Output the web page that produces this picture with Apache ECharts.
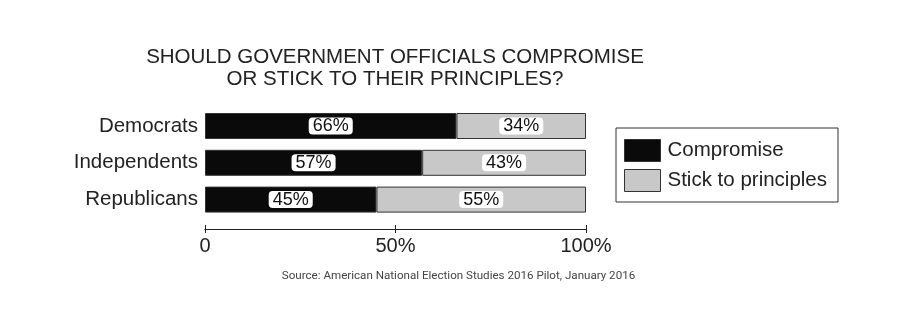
<!DOCTYPE html>
<html>
<head>
<meta charset="utf-8">
<script src="https://cdn.jsdelivr.net/npm/echarts@6/dist/echarts.min.js"></script>
<style>
  html, body { margin: 0; padding: 0; background: #fff; }
  #chart { width: 917px; height: 329px; }
</style>
</head>
<body>
<div id="chart"></div>
<script>
// Survey groups, top to bottom
const groups = ['Democrats', 'Independents', 'Republicans'];
// Share answering "Compromise" (percent)
const compromise = [66, 57, 45];
// Share answering "Stick to principles" (percent)
const principles = [34, 43, 55];
// Axis tick values
const tickValues = [0, 50, 100];

const FONT = '"Liberation Sans", Arial, sans-serif';

const chart = echarts.init(document.getElementById('chart'), null, { renderer: 'canvas' });

const pctLabel = {
  show: true,
  position: 'inside',
  formatter: p => p.value + '%',
  color: '#111',
  fontFamily: FONT,
  fontSize: 18,
  backgroundColor: '#fff',
  borderRadius: 4,
  padding: [0, 4, -1, 4]
};

const baseAxis = {
  type: 'value',
  min: 0,
  max: 100,
  interval: 50,
  offset: 11,
  splitLine: { show: false },
  axisLine: { show: true, lineStyle: { color: '#222', width: 1 } }
};

chart.setOption({
  animation: false,
  title: {
    text: 'SHOULD GOVERNMENT OFFICIALS COMPROMISE\nOR STICK TO THEIR PRINCIPLES?',
    left: 395,
    top: 46.5,
    padding: 0,
    textAlign: 'center',
    textStyle: {
      fontFamily: FONT,
      fontSize: 20.5,
      fontWeight: 'normal',
      color: '#222',
      lineHeight: 22,
      align: 'center'
    }
  },
  legend: {
    orient: 'vertical',
    left: 616,
    top: 128,
    padding: [11, 11, 10, 8],
    itemWidth: 36,
    itemHeight: 22,
    itemGap: 7,
    borderColor: '#333',
    borderWidth: 1,
    icon: 'rect',
    textStyle: { fontFamily: FONT, fontSize: 20.5, color: '#222', padding: [2, 0, 0, 2] },
    itemStyle: { borderColor: '#333', borderWidth: 1 },
    data: ['Compromise', 'Stick to principles']
  },
  grid: { left: 205, right: 331, top: 107.6, height: 110.4, containLabel: false },
  xAxis: [
    Object.assign({}, baseAxis, {
      axisTick: { show: true, inside: true, length: 4, lineStyle: { color: '#222' } },
      axisLabel: {
        show: true,
        margin: 7,
        fontFamily: FONT,
        fontSize: 20,
        color: '#222',
        formatter: v => (tickValues.indexOf(v) >= 0 ? (v === 0 ? '0' : v + '%') : '')
      }
    }),
    Object.assign({}, baseAxis, {
      position: 'bottom',
      axisTick: { show: true, inside: false, length: 4, lineStyle: { color: '#222' } },
      axisLabel: { show: false }
    })
  ],
  yAxis: {
    type: 'category',
    inverse: true,
    data: groups,
    axisLine: { show: false },
    axisTick: { show: false },
    axisLabel: { margin: 7, fontFamily: FONT, fontSize: 20.5, color: '#222', padding: [2, 0, 0, 0] }
  },
  series: [
    {
      name: 'Compromise',
      type: 'bar',
      stack: 'total',
      barWidth: 26,
      data: compromise,
      itemStyle: { color: '#0a0a0a', borderColor: '#333', borderWidth: 1 },
      label: pctLabel
    },
    {
      name: 'Stick to principles',
      type: 'bar',
      stack: 'total',
      barWidth: 26,
      data: principles,
      itemStyle: { color: '#c8c8c8', borderColor: '#333', borderWidth: 1 },
      label: pctLabel
    }
  ],
  graphic: [
    {
      type: 'text',
      left: 'center',
      top: 270,
      style: {
        text: 'Source: American National Election Studies 2016 Pilot, January 2016',
        fontFamily: 'Roboto, sans-serif',
        fontSize: 11.6,
        fill: '#444'
      }
    }
  ]
});
</script>
</body>
</html>
